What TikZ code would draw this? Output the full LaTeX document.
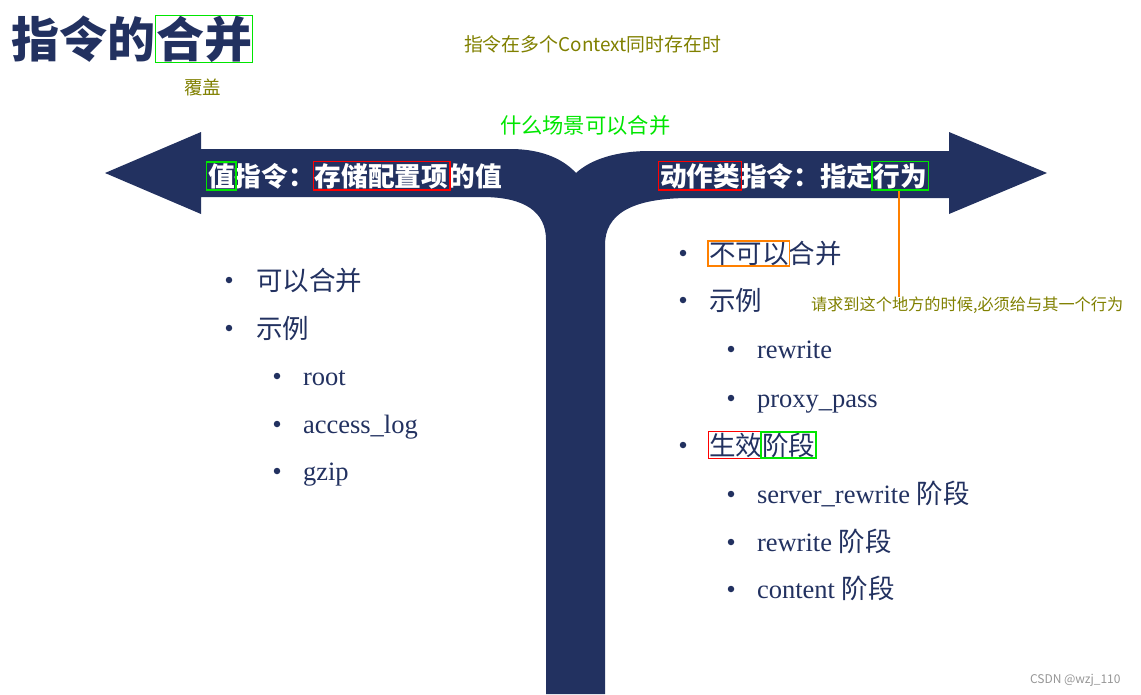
\documentclass[tikz,border=0pt]{standalone}
\usepackage{fontspec}
\setmainfont{Liberation Serif}
\newfontfamily\cjk{Noto Sans CJK SC}
\usetikzlibrary{fit}
\definecolor{navy}{RGB}{34,49,96}
\definecolor{olivec}{RGB}{128,128,0}
\definecolor{lgreen}{RGB}{0,230,0}
\definecolor{orng}{RGB}{255,128,0}
\definecolor{wm}{RGB}{150,150,150}
\begin{document}
\begin{tikzpicture}[x=1pt,y=-1pt,
  txt/.style={anchor=base west,inner sep=0pt,outer sep=0pt},
  headtxt/.style={txt,font=\cjk\bfseries\fontsize{26.7}{30}\selectfont,text=white},
  item/.style={txt,font=\cjk\fontsize{26.5}{30}\selectfont,text=navy},
  en/.style={txt,font=\fontsize{26.5}{30}\selectfont,text=navy},
  note/.style={txt,font=\cjk\fontsize{18.9}{20}\selectfont,text=olivec},
  dotb/.style={circle,fill=navy,inner sep=0pt,minimum size=6.5pt},
  boxr/.style={draw=red,line width=1.6pt,inner sep=1.5pt},
  boxg/.style={draw=lgreen,line width=1.6pt,inner sep=1.5pt},
]
\useasboundingbox (0,0) rectangle (1141,694);
% T-shaped double arrow
\fill[navy] (105,173) -- (201,132) -- (201,149) -- (510,149)
  .. controls (545,149) and (565,161) .. (576,173)
  .. controls (590,160) and (615,151) .. (650,151)
  -- (949,151) -- (949,132) -- (1047,173) -- (949,214) -- (949,198)
  -- (690,198) .. controls (630,198) and (605,215) .. (605,245)
  -- (605,694) -- (546,694) -- (546,240)
  .. controls (546,212) and (525,197) .. (482,197)
  -- (201,197) -- (201,214) -- cycle;

% title
\node[txt,font=\cjk\bfseries\fontsize{48}{50}\selectfont,text=navy] (t1) at (12,57) {指令的};
\node[txt,font=\cjk\bfseries\fontsize{48}{50}\selectfont,text=navy] (t2) at (t1.base east) {合并};
\node[draw=lgreen,line width=0.7pt,inner sep=0.5pt,fit=(t2)] (tb) {};
\node[txt,font=\cjk\fontsize{18.5}{20}\selectfont,text=olivec] (fg) at (184,94) {覆盖};
\node[note] (ctx) at (464,51) {指令在多个Context同时存在时};
\node[txt,font=\cjk\fontsize{21.3}{24}\selectfont,text=lgreen] (q) at (500,133) {什么场景可以合并};

% left head
\node[headtxt] (l1) at (208,186) {值};
\node[headtxt] (l2) at (l1.base east) {指令：};
\node[headtxt] (l3) at (l2.base east) {存储配置项};
\node[headtxt] (l4) at (l3.base east) {的值};
\node[boxg,fit=(l1)] (lb1) {};
\node[boxr,fit=(l3)] (lb3) {};

% right head
\node[headtxt] (h1) at (660,186) {动作类};
\node[headtxt] (h2) at (h1.base east) {指令：指定};
\node[headtxt] (h3) at (h2.base east) {行为};
\node[boxr,fit=(h1)] (hb1) {};
\node[boxg,fit=(h3)] (hb3) {};
\coordinate (annend) at (899,297);
\draw[orng,line width=1.3pt] (hb3.south -| annend) -- (annend);
\node[note,font=\cjk\fontsize{16.2}{20}\selectfont] (ann) at (811,310) {请求到这个地方的时候,必须给与其一个行为};

% left list
\node[dotb] (ld1) at (229,280) {};
\node[item] (li1) at (256,290) {可以合并};
\node[dotb] (ld2) at (229,328) {};
\node[item] (li2) at (256,338) {示例};
\node[dotb] (ld3) at (277,376) {};
\node[en] (li3) at (303,385) {root};
\node[dotb] (ld4) at (277,424) {};
\node[en] (li4) at (303,433) {access\_log};
\node[dotb] (ld5) at (277,471) {};
\node[en] (li5) at (303,480) {gzip};

% right list
\node[dotb] (rd1) at (683,253) {};
\node[item] (ri1a) at (709,263) {不可以};
\node[item] (ri1b) at (ri1a.base east) {合并};
\node[draw=orng,line width=1.6pt,inner sep=1pt,fit=(ri1a)] (rb1) {};
\node[dotb] (rd2) at (683,300) {};
\node[item] (ri2) at (709,310) {示例};
\node[dotb] (rd3) at (731,349) {};
\node[en] (ri3) at (757,358) {rewrite};
\node[dotb] (rd4) at (731,398) {};
\node[en] (ri4) at (757,407) {proxy\_pass};
\node[dotb] (rd5) at (683,445) {};
\node[item] (ri5a) at (709,455) {生效};
\node[item] (ri5b) at (ri5a.base east) {阶段};
\node[draw=red,line width=1pt,inner sep=1pt,fit=(ri5a)(ri5b)] (rb5a) {};
\node[draw=lgreen,line width=2pt,inner sep=1pt,fit=(ri5b)] (rb5b) {};
\node[dotb] (rd6) at (731,494) {};
\node[en] (ri6) at (757,503) {server\_rewrite {\cjk 阶段}};
\node[dotb] (rd7) at (731,542) {};
\node[en] (ri7) at (757,551) {rewrite {\cjk 阶段}};
\node[dotb] (rd8) at (731,589) {};
\node[en] (ri8) at (757,598) {content {\cjk 阶段}};

% watermark
\node[txt,font=\cjk\fontsize{12}{14}\selectfont,text=wm] (w) at (1030,683) {CSDN @wzj\_110};
\end{tikzpicture}
\end{document}
